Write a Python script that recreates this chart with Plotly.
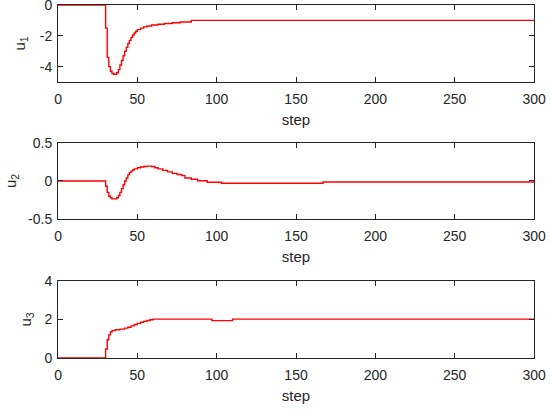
import plotly.graph_objects as go
from plotly.subplots import make_subplots

# ---- data (step index where the value changes, and the held value) ----
steps1 = [0, 30, 31, 32, 33, 34, 35, 37, 38, 39, 40, 41, 42, 43, 44, 45, 46, 47, 48, 49, 50,
          52, 54, 56, 59, 63, 67, 72, 77, 84, 300]
u1 = [0, -1.5, -3.4, -4.0, -4.3, -4.45, -4.5, -4.4, -4.2, -3.9, -3.6, -3.3, -3.0, -2.75, -2.5,
      -2.3, -2.1, -1.95, -1.82, -1.7, -1.6, -1.5, -1.42, -1.36, -1.3, -1.25, -1.2, -1.15, -1.1,
      -1.0, -1.0]

steps2 = [0, 30, 31, 32, 33, 34, 37, 38, 39, 40, 41, 42, 43, 44, 45, 46, 47, 48, 50, 52, 54,
          56, 59, 61, 63, 66, 69, 72, 75, 78, 80, 84, 88, 94, 103, 167, 300]
u2 = [0, -0.07, -0.15, -0.2, -0.22, -0.235, -0.22, -0.19, -0.15, -0.1, -0.05, 0.0, 0.04, 0.08,
      0.11, 0.13, 0.145, 0.16, 0.175, 0.185, 0.19, 0.195, 0.19, 0.175, 0.16, 0.14, 0.12, 0.1,
      0.085, 0.07, 0.04, 0.022, 0.004, -0.017, -0.03, -0.013, -0.013]

steps3 = [0, 30, 31, 32, 33, 34, 36, 39, 42, 44, 46, 48, 50, 52, 54, 56, 58, 60, 97, 110, 300]
u3 = [0, 0.47, 0.95, 1.2, 1.35, 1.42, 1.47, 1.5, 1.55, 1.6, 1.67, 1.74, 1.8, 1.86, 1.9, 1.95,
      1.99, 2.02, 1.94, 2.02, 2.02]

x_ticks = [0, 50, 100, 150, 200, 250, 300]
y1_ticks, y1_text = [-4, -2, 0], ["-4", "-2", "0"]
y2_ticks, y2_text = [-0.5, 0, 0.5], ["-0.5", "0", "0.5"]
y3_ticks, y3_text = [0, 2, 4], ["0", "2", "4"]
y_labels = ["u<sub>1</sub>", "u<sub>2</sub>", "u<sub>3</sub>"]

fig = make_subplots(rows=3, cols=1)
for i, (sx, sy) in enumerate([(steps1, u1), (steps2, u2), (steps3, u3)], start=1):
    fig.add_trace(go.Scatter(x=sx, y=sy, mode="lines", line_shape="hv",
                             line=dict(color="#ff0000", width=1.4), showlegend=False),
                  row=i, col=1)

axcol = "#262626"
font = dict(family="Liberation Sans, Arial, sans-serif", size=14, color=axcol)
tfont = dict(family="Liberation Sans, Arial, sans-serif", size=15, color=axcol)
ydoms = [[0.8005, 0.9878], [0.4672, 0.6521], [0.1290, 0.3163]]
yranges = [[-5, 0], [-0.5, 0.5], [0, 4]]
yticks = [(y1_ticks, y1_text), (y2_ticks, y2_text), (y3_ticks, y3_text)]
ystand = [10, 7, 9]

for i in range(3):
    xa = "xaxis" if i == 0 else f"xaxis{i+1}"
    ya = "yaxis" if i == 0 else f"yaxis{i+1}"
    fig.layout[xa].update(domain=[0.1055, 0.971], range=[0, 300], tickvals=x_ticks,
                          ticks="inside", ticklen=5, tickcolor=axcol, showline=True,
                          linecolor=axcol, linewidth=1, mirror="ticks", showgrid=False,
                          zeroline=False, tickfont=font, automargin=False,
                          ticklabelstandoff=4, ticklabeloverflow="allow",
                          title=dict(text="step", font=tfont, standoff=8))
    fig.layout[ya].update(domain=ydoms[i], range=yranges[i], tickvals=yticks[i][0],
                          ticktext=yticks[i][1], ticks="inside", ticklen=5, tickcolor=axcol,
                          showline=True, linecolor=axcol, linewidth=1, mirror="ticks",
                          showgrid=False, zeroline=False, tickfont=font, automargin=False,
                          ticklabelstandoff=2, ticklabeloverflow="allow",
                          title=dict(text=y_labels[i], font=tfont, standoff=ystand[i]))

fig.update_layout(width=550, height=411, margin=dict(l=0, r=0, t=0, b=0),
                  paper_bgcolor="white", plot_bgcolor="white", font=font)
fig.write_html("out.html", config={"displayModeBar": False},
               post_script="document.body.style.margin='0';")
